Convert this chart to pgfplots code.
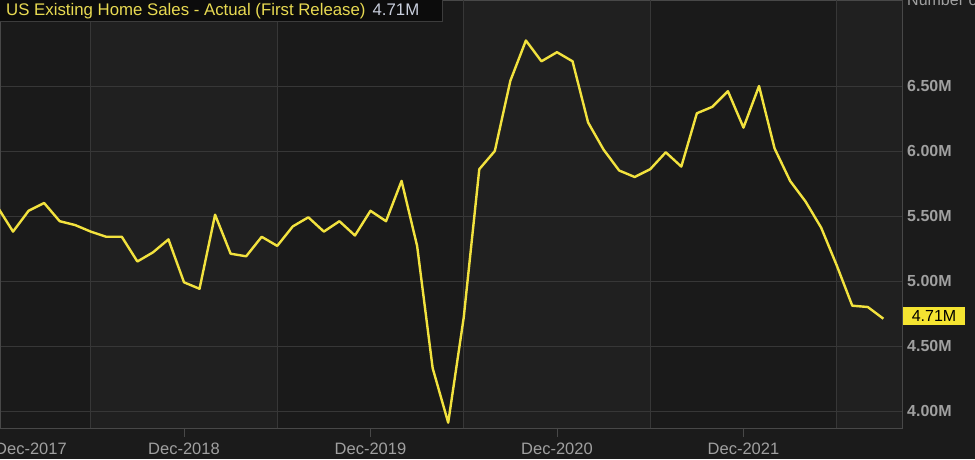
\documentclass[border=0pt]{standalone}
\usepackage{pgfplots}
\pgfplotsset{compat=1.18}
\usepackage{pgfplotstable}
\usepackage{fontspec}
\setmainfont{Liberation Sans}
\definecolor{pagebg}{HTML}{1B1B1B}
\definecolor{banddark}{HTML}{1A1A1A}
\definecolor{bandlight}{HTML}{202020}
\definecolor{gridc}{HTML}{373737}
\definecolor{borderc}{HTML}{484848}
\definecolor{linec}{HTML}{F2E23E}
\definecolor{labelc}{HTML}{A0A0A0}
\definecolor{titley}{HTML}{E8DA52}
\definecolor{titlev}{HTML}{C8CEDC}
\definecolor{boxy}{HTML}{F4E431}
\definecolor{titlebg}{HTML}{0C0C0C}
\definecolor{titlebd}{HTML}{3C3C3C}

% months since Dec-2017, existing home sales (millions, SAAR, first release)
\pgfplotstableread{
m v
-1 5.81
0 5.57
1 5.38
2 5.54
3 5.60
4 5.46
5 5.43
6 5.38
7 5.34
8 5.34
9 5.15
10 5.22
11 5.32
12 4.99
13 4.94
14 5.51
15 5.21
16 5.19
17 5.34
18 5.27
19 5.42
20 5.49
21 5.38
22 5.46
23 5.35
24 5.54
25 5.46
26 5.77
27 5.27
28 4.33
29 3.91
30 4.72
31 5.86
32 6.00
33 6.54
34 6.85
35 6.69
36 6.76
37 6.69
38 6.22
39 6.01
40 5.85
41 5.80
42 5.86
43 5.99
44 5.88
45 6.29
46 6.34
47 6.46
48 6.18
49 6.50
50 6.02
51 5.77
52 5.61
53 5.41
54 5.12
55 4.81
56 4.80
57 4.71
}\sales

\begin{document}
\begin{tikzpicture}
% background and alternating yearly bands (Jun to Jun)
\fill[pagebg] (0pt,-31pt) rectangle (975pt,428pt);
\fill[banddark] (0pt,0pt) rectangle (90.75pt,428pt);
\fill[bandlight] (90.75pt,0pt) rectangle (277.24pt,428pt);
\fill[banddark] (277.24pt,0pt) rectangle (463.7pt,428pt);
\fill[bandlight] (463.7pt,0pt) rectangle (650.2pt,428pt);
\fill[banddark] (650.2pt,0pt) rectangle (836.7pt,428pt);
\fill[bandlight] (836.7pt,0pt) rectangle (902pt,428pt);
\begin{axis}[
  at={(0pt,0pt)}, anchor=south west,
  scale only axis, width=902pt, height=428pt,
  xmin=0.161, xmax=58.2, ymin=3.8692, ymax=7.1615,
  axis line style={draw=borderc, line width=0.8pt},
  ytick={4,4.5,5,5.5,6,6.5},
  yticklabels={4.00M,4.50M,5.00M,5.50M,6.00M,6.50M},
  yticklabel pos=right,
  ymajorgrids, major grid style={draw=gridc, line width=0.8pt},
  xtick={12,24,36,48},
  xticklabels={Dec-2018,Dec-2019,Dec-2020,Dec-2021},
  extra x ticks={6,18,30,42,54},
  extra x tick labels={},
  extra x tick style={xmajorgrids=true, major tick length=0pt},
  tick align=outside, major tick length=9pt,
  xtick style={draw=borderc, line width=0.8pt},
  ytick style={draw=none},
  xticklabel style={font=\fontsize{16.5}{19}\selectfont, text=labelc, yshift=-2pt},
  yticklabel style={font=\bfseries\fontsize{16}{19}\selectfont, text=labelc, anchor=west, inner sep=0pt, xshift=-4pt},
]
\addplot[linec, line width=2.4pt, line join=round, no markers] table[x=m, y=v] {\sales};
\end{axis}
\draw[fill=titlebg, draw=titlebd, line width=1pt] (-2pt,406pt) rectangle (442pt,431pt);
\node[anchor=base west, inner sep=0pt, text=titley, font=\fontsize{16.8}{19}\selectfont] at (6pt,412pt) {US Existing Home Sales - Actual (First Release)\hspace{7pt}\textcolor{titlev}{4.71M}};
\node[anchor=base west, inner sep=0pt, text=labelc, font=\fontsize{16}{19}\selectfont] at (907pt,422pt) {Number of};
\node[anchor=north, text=labelc, font=\fontsize{16.5}{19}\selectfont] at (31pt,-11pt) {Dec-2017};
\node[fill=boxy, text=black, minimum width=62pt, minimum height=18pt, inner sep=0pt, font=\fontsize{16}{19}\selectfont] at (934pt,112pt) {4.71M};
\pgfresetboundingbox
\path[use as bounding box] (0pt,-31pt) rectangle (975pt,428pt);
\end{tikzpicture}
\end{document}
